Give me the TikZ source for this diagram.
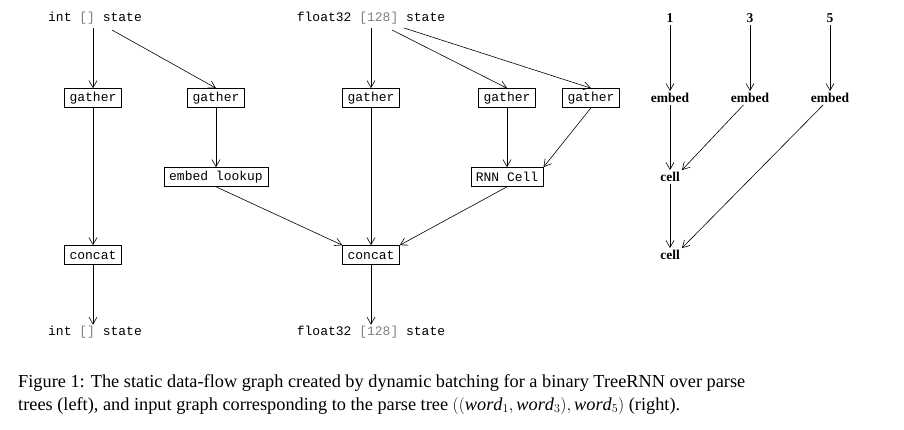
\documentclass[tikz,border=0pt]{standalone}
\usepackage{fontspec}
\setmainfont{Liberation Serif}
\setmonofont{Liberation Mono}
\usetikzlibrary{arrows.meta}
\begin{document}
\begin{tikzpicture}[x=1pt,y=-1pt,
 box/.style={draw,line width=0.6pt,font=\fontsize{13}{14}\ttfamily,inner xsep=5pt,inner ysep=3pt,minimum height=19pt},
 lbl/.style={font=\fontsize{13}{14}\ttfamily,inner sep=1pt},
 bf/.style={font=\fontsize{13.5}{15}\bfseries\selectfont,inner sep=2pt},
 arr/.style={-{Straight Barb[length=7pt,width=8pt]},line width=0.6pt}]
\useasboundingbox (0,0) rectangle (904,430);
\node[lbl] (s1) at (95,18) {int \textcolor{gray}{[]} state};
\node[lbl] (s2) at (371,18) {float32 \textcolor{gray}{[128]} state};
\node[box] (g1) at (93,98) {gather};
\node[box] (g2) at (216,98) {gather};
\node[box] (g3) at (371,98) {gather};
\node[box] (g4) at (507,98) {gather};
\node[box] (g5) at (591,98) {gather};
\node[box] (el) at (216,177) {embed lookup};
\node[box] (rc) at (507,177) {RNN Cell};
\node[box] (c1) at (93,255) {concat};
\node[box] (c2) at (371,255) {concat};
\node[lbl] (o1) at (95,332) {int \textcolor{gray}{[]} state};
\node[lbl] (o2) at (371,332) {float32 \textcolor{gray}{[128]} state};
\coordinate (a1) at (93,28); \coordinate (a2) at (112,30);
\coordinate (b1) at (371,28); \coordinate (b2) at (392,30); \coordinate (b3) at (404,28);
\draw[arr] (a1) -- (g1);
\draw[arr] (a2) -- (g2.north);
\draw[arr] (b1) -- (g3);
\draw[arr] (b2) -- (g4.north);
\draw[arr] (b3) -- (g5.north);
\draw[arr] (g2) -- (el);
\draw[arr] (g4) -- (rc);
\draw[arr] (g5.south) -- (rc.north east);
\draw[arr] (g1) -- (c1);
\draw[arr] (g3) -- (c2);
\draw[arr] (el.south) -- (c2.north west);
\draw[arr] (rc.south) -- (c2.north east);
\draw[arr] (c1) -- (o1.north -| c1);
\draw[arr] (c2) -- (o2);
% right
\node[bf] (n1) at (670,18) {1};
\node[bf] (n3) at (750,18) {3};
\node[bf] (n5) at (830,18) {5};
\node[bf] (e1) at (670,98) {embed};
\node[bf] (e3) at (750,98) {embed};
\node[bf] (e5) at (830,98) {embed};
\node[bf] (k1) at (670,177) {cell};
\node[bf] (k2) at (670,255) {cell};
\draw[arr] (n1) -- (e1);
\draw[arr] (n3) -- (e3);
\draw[arr] (n5) -- (e5);
\draw[arr] (e1) -- (k1);
\draw[arr] (e3) -- (k1.north east);
\draw[arr] (k1) -- (k2);
\draw[arr] (e5) -- (k2.north east);
\node[anchor=north west,align=left,inner sep=0pt,font=\fontsize{18.3}{23}\selectfont] (cap) at (18,374) {Figure 1: The static data-flow graph created by dynamic batching for a binary TreeRNN over parse\\trees (left), and input graph corresponding to the parse tree $((\mathit{word}_1,\mathit{word}_3),\mathit{word}_5)$ (right).};
\end{tikzpicture}
\end{document}
